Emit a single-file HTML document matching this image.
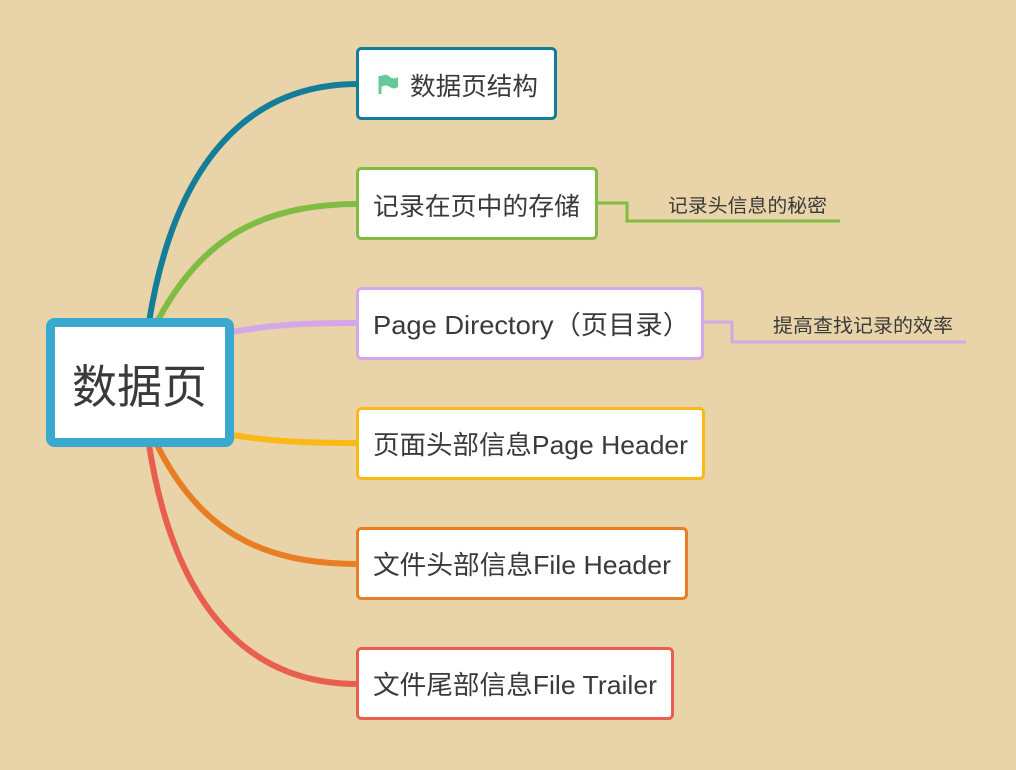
<!DOCTYPE html>
<html><head><meta charset="utf-8"><style>
html,body{margin:0;padding:0;background:#e8d4a8;}
svg{display:block}
text{font-family:"Liberation Sans","Noto Sans CJK SC",sans-serif;fill:#3a3a3a;}
</style></head><body>
<svg width="1016" height="770" viewBox="0 0 1016 770" xmlns="http://www.w3.org/2000/svg">
<rect width="1016" height="770" fill="#e8d4a8"/>
<g fill="none" stroke-width="6" stroke-linecap="butt">
<path d="M149,322 C175,160 250,84 358,84" stroke="#147d99"/>
<path d="M157,322 C200,240 260,204 358,204" stroke="#80bc42"/>
<path d="M232,332 C270,325 300,323 358,323" stroke="#d4a8e8"/>
<path d="M232,435 C270,441 300,443 358,443" stroke="#fbb916"/>
<path d="M157,445 C200,530 260,564 358,564" stroke="#e87e24"/>
<path d="M149,445 C175,610 250,684 358,684" stroke="#e85f50"/>
</g>
<g fill="none" stroke-width="3">
<path d="M598,203 H627 V221 H840" stroke="#80bc42"/>
<path d="M704,322 H732 V342 H966" stroke="#d4a8e8"/>
</g>
<text x="668" y="212" font-size="19" textLength="159" lengthAdjust="spacingAndGlyphs">记录头信息的秘密</text>
<text x="773" y="332" font-size="19" textLength="180" lengthAdjust="spacingAndGlyphs">提高查找记录的效率</text>
<rect x="50.5" y="322.5" width="179" height="120" rx="4" fill="#fff" stroke="#3aa8cf" stroke-width="9"/>
<text x="72" y="403" font-size="46" textLength="135" lengthAdjust="spacingAndGlyphs">数据页</text>
<g fill="#fff" stroke-width="3">
<rect x="357.5" y="48.5" width="198" height="70" rx="4" stroke="#147d99"/>
<rect x="357.5" y="168.5" width="239" height="70" rx="4" stroke="#80bc42"/>
<rect x="357.5" y="288.5" width="345" height="70" rx="4" stroke="#d4a8e8"/>
<rect x="357.5" y="408.5" width="346" height="70" rx="4" stroke="#fbb916"/>
<rect x="357.5" y="528.5" width="329" height="70" rx="4" stroke="#e87e24"/>
<rect x="357.5" y="648.5" width="315" height="70" rx="4" stroke="#e85f50"/>
</g>
<path d="M380,76 V94" stroke="#66c998" stroke-width="3"/>
<path d="M381,76 Q386,73 390,77 Q394,80 398,77 V87 Q394,90 390,87 Q386,84 381,87 Z" fill="#66c998"/>
<text x="410" y="95" font-size="25" textLength="128" lengthAdjust="spacingAndGlyphs">数据页结构</text>
<text x="373" y="215" font-size="25" textLength="207" lengthAdjust="spacingAndGlyphs">记录在页中的存储</text>
<text x="373" y="334" font-size="26" textLength="317" lengthAdjust="spacingAndGlyphs">Page Directory（页目录）</text>
<text x="373" y="454" font-size="26" textLength="315" lengthAdjust="spacingAndGlyphs">页面头部信息Page Header</text>
<text x="373" y="574" font-size="26" textLength="298" lengthAdjust="spacingAndGlyphs">文件头部信息File Header</text>
<text x="373" y="694" font-size="26" textLength="284" lengthAdjust="spacingAndGlyphs">文件尾部信息File Trailer</text>
</svg>
</body></html>
